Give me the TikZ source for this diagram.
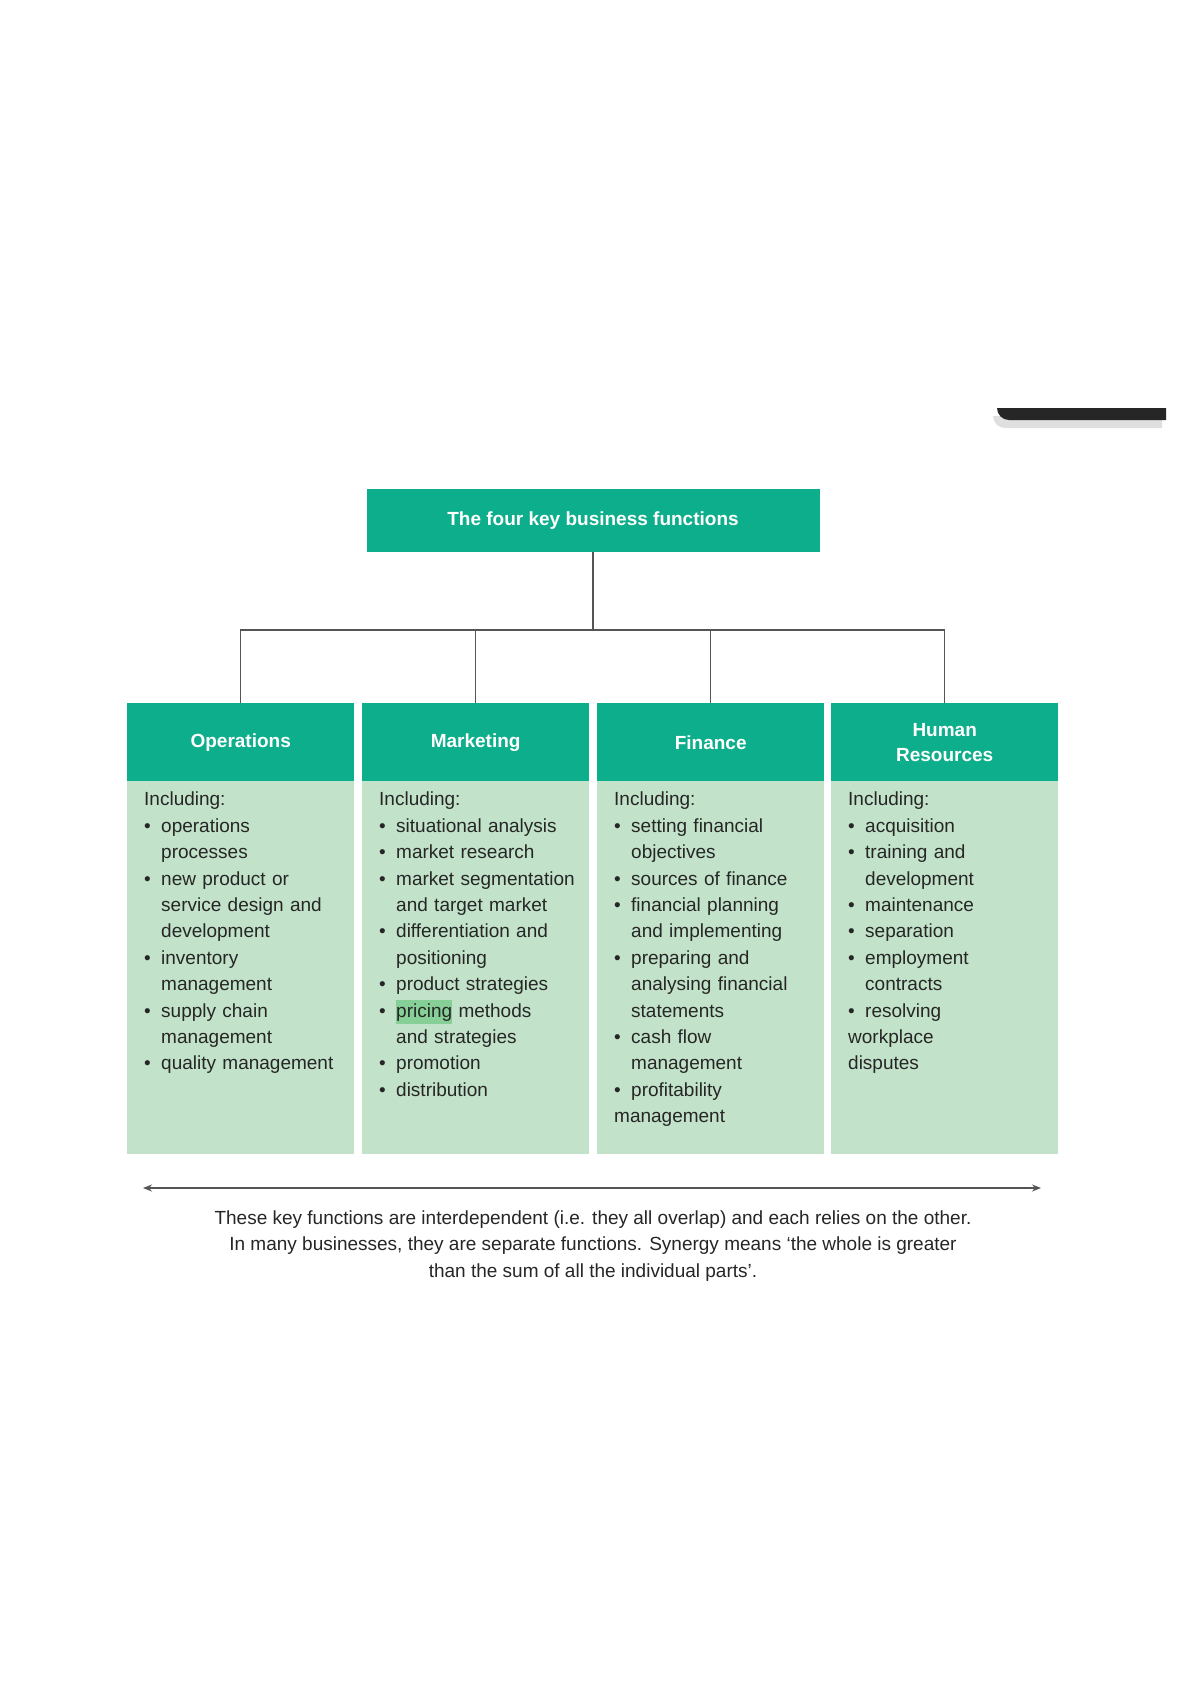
\documentclass[tikz,border=0pt]{standalone}
\usepackage{fontspec}
\setmainfont{Liberation Sans}
\usetikzlibrary{arrows.meta,shadows}
\definecolor{hdr}{HTML}{0DAE8B}
\definecolor{bodyg}{HTML}{C2E3C9}
\definecolor{hl}{HTML}{86CF96}
\definecolor{ln}{HTML}{555555}
\newcommand{\bl}[1]{\par\hangindent=17pt\hangafter=1\noindent\makebox[17pt][l]{\textbullet}#1}
\tikzset{
 hbox/.style={fill=hdr,text=white,font=\bfseries\fontsize{19}{25}\selectfont,minimum width=227pt,minimum height=78pt,inner sep=0pt,align=center,anchor=north west},
 bbox/.style={fill=bodyg,minimum width=227pt,minimum height=373pt,inner sep=0pt,anchor=north west},
 btext/.style={anchor=north west,inner sep=0pt,text width=215pt,align=left,font=\fontsize{19}{26.4}\selectfont,text=black!85},
 conn/.style={draw=ln,line width=1.3pt}
}
\begin{document}
\begin{tikzpicture}[x=1pt,y=-1pt]
\useasboundingbox (0,0) rectangle (1200,1698);
\fill[white] (0,0) rectangle (1200,1698);
% dark bar
\fill[black!85,drop shadow={shadow xshift=-4pt,shadow yshift=-8pt,opacity=0.25}] (997,408) -- (1166,408) -- (1166,420) -- (1009,420) arc[start angle=270,end angle=180,radius=12pt] -- cycle;
\node[fill=hdr,text=white,font=\bfseries\fontsize{19}{25}\selectfont,minimum width=453pt,minimum height=63pt,inner sep=0pt] (top) at (593,520.5) {The four key business functions};
\node[hbox] (h1) at (127,703) {Operations};
\node[hbox] (h2) at (362,703) {Marketing};
\node[hbox] (h3) at (597,703) {Finance};
\node[hbox] (h4) at (831,703) {Human\\Resources};
\node[bbox] (b1) at (127,781) {};
\node[bbox] (b2) at (362,781) {};
\node[bbox] (b3) at (597,781) {};
\node[bbox] (b4) at (831,781) {};
\coordinate (j) at (593,630);
\draw[conn] (top.south) -- (j);
\draw[conn] (h1.north) |- (j) -| (h4.north);
\draw[conn] (h2.north) -- (h2.north |- j);
\draw[conn] (h3.north) -- (h3.north |- j);
\node[btext] (t1) at (144,792) {Including:
\bl{operations\newline processes}
\bl{new product or\newline service design and\newline development}
\bl{inventory\newline management}
\bl{supply chain\newline management}
\bl{quality management}};
\node[btext] (t2) at (379,792) {Including:
\bl{situational analysis}
\bl{market research}
\bl{market segmentation\newline and target market}
\bl{differentiation and\newline positioning}
\bl{product strategies}
\bl{\colorbox{hl}{\hspace*{-3pt}pricing\hspace*{-3pt}} methods\newline and strategies}
\bl{promotion}
\bl{distribution}};
\node[btext] (t3) at (614,792) {Including:
\bl{setting financial\newline objectives}
\bl{sources of finance}
\bl{financial planning\newline and implementing}
\bl{preparing and\newline analysing financial\newline statements}
\bl{cash flow\newline management}
\bl{profitability\newline management}};
\node[btext] (t4) at (848,792) {Including:
\bl{acquisition}
\bl{training and\newline development}
\bl{maintenance}
\bl{separation}
\bl{employment\newline contracts}
\bl{resolving\newline workplace\newline disputes}};
\coordinate (al) at (143,1188);
\coordinate (ar) at (1041,1188);
\draw[conn,{Stealth[length=9pt,width=7pt]}-{Stealth[length=9pt,width=7pt]}] (al) -- (ar);
\node[font=\fontsize{19}{26.4}\selectfont,align=center,text=black!85,inner sep=0pt] (cap) at (593,1246) {These key functions are interdependent (i.e. they all overlap) and each relies on the other.\\In many businesses, they are separate functions. Synergy means ‘the whole is greater\\than the sum of all the individual parts’.};
\end{tikzpicture}
\end{document}
